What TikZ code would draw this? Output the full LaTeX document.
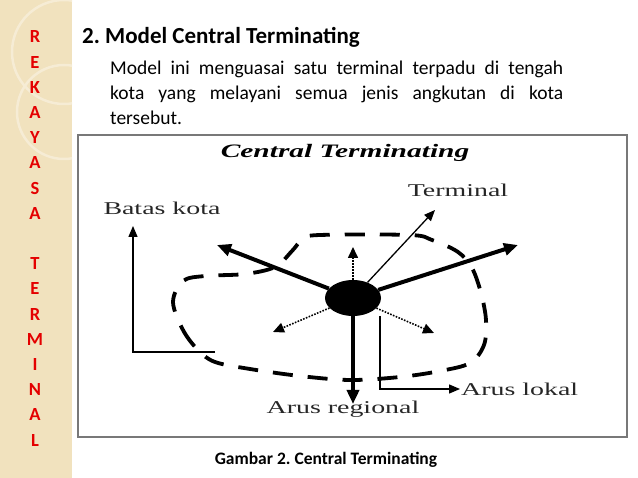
\documentclass[tikz,border=0pt]{standalone}
\usepackage{fontspec}
\setmainfont{Carlito}
\newfontfamily\figfont[FakeStretch=1.55]{Liberation Serif}
\usetikzlibrary{arrows.meta,shapes.geometric,calc}
\definecolor{stripbeige}{RGB}{241,226,190}
\definecolor{letterred}{RGB}{228,0,0}
\definecolor{framegray}{RGB}{120,120,120}
\frenchspacing

\begin{document}
\begin{tikzpicture}[x=1pt, y=-1pt,
    sideletter/.style={text=letterred, font=\fontsize{18.5}{20}\selectfont\bfseries},
    figlabel/.style={font=\figfont\fontsize{18}{20}\selectfont, text=black!85, inner sep=1pt},
    thickarrow/.style={-{Triangle[length=14pt,width=12pt]}, line width=4pt},
    thinarrow/.style={-{Triangle[length=11pt,width=9pt]}, line width=1.3pt},
    dotarrow/.style={-{Triangle[length=11pt,width=10pt]}, line width=1.6pt, dash pattern=on 1.6pt off 1.4pt},
    citylimit/.style={line width=3.8pt, dash pattern=on 20pt off 15pt}]
    \useasboundingbox (0,0) rectangle (638,478);

    % Side strip
    \fill[stripbeige] (0,0) rectangle (72,478);
    \begin{scope}
        \clip (0,0) rectangle (72,478);
        \draw[white!35!stripbeige, line width=2.5pt] (64,52) circle[radius=52];
        \draw[white!35!stripbeige, line width=2.5pt] (64,112) circle[radius=47];
    \end{scope}
    \foreach \ch/\row in {R/0,E/1,K/2,A/3,Y/4,A/5,S/6,A/7,T/9,E/10,R/11,M/12,I/13,N/14,A/15,L/16}
        \node[sideletter] (side\row) at (35,37+25.2*\row) {\ch};

    % Heading and text
    \node[anchor=base west, inner sep=0, font=\fontsize{23}{27}\selectfont\bfseries] (title) at (82,44) {2. Model Central Terminating};
    \node[anchor=north west, inner sep=0, text width=453pt, align=justify, font=\fontsize{19.5}{25}\selectfont] (intro) at (110,61)
        {Model ini menguasai satu terminal terpadu di tengah\linebreak kota yang melayani semua jenis angkutan di kota\linebreak tersebut.};
    \node[font=\fontsize{17.5}{20}\selectfont\bfseries] (caption) at (326,460) {Gambar 2. Central Terminating};

    % Figure frame
    \draw[framegray, line width=2pt] (78,135) rectangle (627,437);
    \node[font=\figfont\fontsize{19}{22}\selectfont\bfseries\itshape] (figtitle) at (345,153) {Central Terminating};

    % City limit
    \draw[citylimit] plot[smooth cycle, tension=0.55] coordinates {(173,302) (183,330) (198,350) (215,362) (250,369) (300,376) (350,380) (400,377) (440,371) (470,363) (484,345) (486,320) (481,293) (472,268) (458,252) (432,240) (410,235) (320,235) (303,239) (292,251) (275,267) (245,274) (205,276) (183,281)};

    % Labels
    \node[figlabel] (batas) at (162,208) {Batas kota};
    \node[figlabel] (terminal) at (458,190) {Terminal};
    \node[figlabel] (regional) at (343,409) {Arus regional};
    \node[figlabel, anchor=west] (lokal) at (460,389) {Arus lokal};

    % Free ends
    \coordinate (leftend) at (217,245);
    \coordinate (rightend) at (518,245);
    \coordinate (downend) at (353,404);
    \coordinate (termend) at (435,210);
    \coordinate (dotup) at (353,247);
    \coordinate (dotleft) at (273,332);
    \coordinate (dotright) at (434,333);
    \coordinate (batasfoot) at (215,352);
    \coordinate (batastip) at (133,226);
    \coordinate (lokalfoot) at (380,316);

    % Terminal
    \node[ellipse, fill=black, minimum width=56pt, minimum height=36pt, inner sep=0] (hub) at (353,298) {};

    % Arrows
    \draw[thickarrow] (hub) -- (leftend);
    \draw[thickarrow] (hub) -- (rightend);
    \draw[thickarrow] (hub) -- (downend);
    \draw[thinarrow] (hub) -- (termend);
    \draw[dotarrow] (hub) -- (dotup);
    \draw[dotarrow] (hub) -- (dotleft);
    \draw[dotarrow] (hub) -- (dotright);
    \draw[thinarrow] (batasfoot) -| (batastip);
    \draw[thinarrow] (lokalfoot) |- (lokal.west);
\end{tikzpicture}
\end{document}
